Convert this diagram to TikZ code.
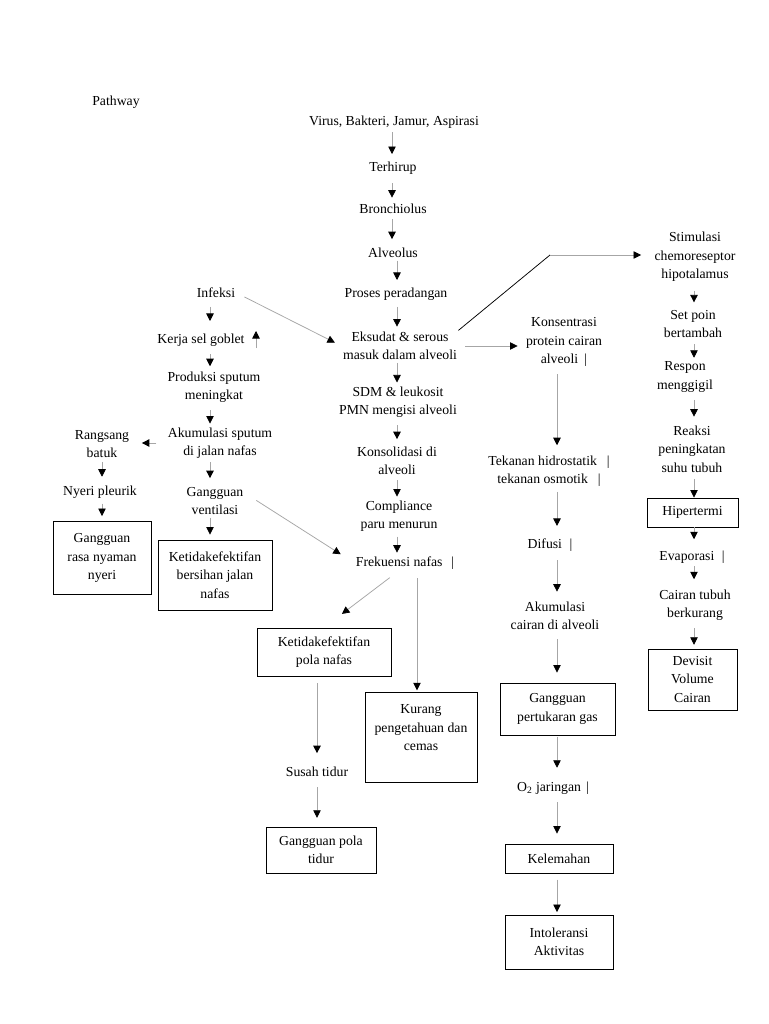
\documentclass[tikz,border=0pt]{standalone}
\usepackage{fontspec}
\setmainfont{Liberation Serif}
\usetikzlibrary{arrows.meta}
\begin{document}
\begin{tikzpicture}[x=0.8pt,y=-0.8pt,
  every node/.style={font=\fontsize{11}{14.8}\selectfont},
  txt/.style={align=center, inner sep=1pt},
  box/.style={draw=black, line width=0.75pt, align=center, inner sep=0pt},
  arr/.style={draw=black!35, line width=0.6pt, shorten <=3pt, shorten >=3pt,
    -{Triangle[length=6pt,width=6pt,color=black,fill=black]}},
  blk/.style={draw=black, line width=0.6pt},
]
\fill[white] (0,0) rectangle (768,1024);
\useasboundingbox (0,0) rectangle (768,1024);

% column guides
\coordinate (cc) at (392,0);
\coordinate (cc2) at (397,0);
\coordinate (lc) at (210,0);
\coordinate (lc2) at (102,0);
\coordinate (mc) at (557,0);
\coordinate (rc) at (694,0);

% centre column
\node[txt] (pathway) at (116,102) {Pathway};
\node[txt] (virus) at (394,122) {Virus, Bakteri, Jamur, Aspirasi};
\node[txt] (terhirup) at (393,168) {Terhirup};
\node[txt] (bronch) at (393,209) {Bronchiolus};
\node[txt] (alveolus) at (393,253) {Alveolus};
\node[txt] (proses) at (396,294) {Proses peradangan};
\node[txt] (eksudat) at (400,346) {Eksudat \& serous\\masuk dalam alveoli};
\node[txt] (sdm) at (398,402) {SDM \& leukosit\\PMN mengisi alveoli};
\node[txt] (konsol) at (397,461) {Konsolidasi di\\alveoli};
\node[txt] (compl) at (399,516) {Compliance\\paru menurun};
\node[txt] (frek) at (405,563) {Frekuensi nafas\hspace{7pt}|};

% left column
\node[txt] (infeksi) at (216,293) {Infeksi};
\node[txt] (kerja) at (201,340) {Kerja sel goblet};
\node[txt] (produksi) at (214,387) {Produksi sputum\\meningkat};
\node[txt] (akum) at (220,443) {Akumulasi sputum\\di jalan nafas};
\node[txt] (rangsang) at (102,444) {Rangsang\\batuk};
\node[txt] (nyeri) at (100,492) {Nyeri pleurik};
\node[txt] (gangv) at (215,501) {Gangguan\\ventilasi};
\node[box, minimum width=78.4pt, minimum height=58.4pt] (nyaman) at (102,558) {Gangguan\\rasa nyaman\\nyeri};
\node[box, minimum width=91.2pt, minimum height=56pt] (bersihan) at (215,575) {Ketidakefektifan\\bersihan jalan\\nafas};

% lower centre
\node[box, minimum width=107.2pt, minimum height=38.4pt] (ketpola) at (324,652) {Ketidakefektifan\\pola nafas};
\node[txt] (susah) at (317,772) {Susah tidur};
\node[box, minimum width=88pt, minimum height=36.8pt] (tidur) at (321,850) {Gangguan pola\\tidur};
\node[box, minimum width=89.6pt, minimum height=72pt] (kurang) at (421,737) {Kurang\\pengetahuan dan\\cemas\\\mbox{}};

% middle column
\node[txt] (konsen) at (564,342) {Konsentrasi\\protein cairan\\alveoli\hspace{5pt}|};
\node[txt] (tekanan) at (549,471) {Tekanan hidrostatik\hspace{8pt}|\\tekanan osmotik\hspace{8pt}|};
\node[txt] (difusi) at (550,545) {Difusi\hspace{6pt}|};
\node[txt] (akumc) at (555,616) {Akumulasi\\cairan di alveoli};
\node[box, minimum width=92pt, minimum height=41.6pt] (tukar) at (557.5,709) {Gangguan\\pertukaran gas};
\node[txt] (oksigen) at (553,788) {O\textsubscript{2} jaringan\hspace{4pt}|};
\node[box, minimum width=86.4pt, minimum height=23.2pt] (lemah) at (559,858.5) {Kelemahan};
\node[box, minimum width=86.4pt, minimum height=43.2pt] (intol) at (559,942) {Intoleransi\\Aktivitas};

% right column
\node[txt] (stim) at (695,257) {Stimulasi\\chemoreseptor\\hipotalamus};
\node[txt] (setpoin) at (693,324) {Set poin\\bertambah};
\node[txt] (respon) at (685,377) {Respon\\menggigil};
\node[txt] (reaksi) at (692,449) {Reaksi\\peningkatan\\suhu tubuh};
\node[box, minimum width=72.8pt, minimum height=23.2pt] (hiper) at (692.5,512.5) {Hipertermi};
\node[txt] (evap) at (692,557) {Evaporasi\hspace{6pt}|};
\node[txt] (cairan) at (695,605) {Cairan tubuh\\berkurang};
\node[box, minimum width=71.2pt, minimum height=48.8pt] (devisit) at (692.5,679.5) {Devisit\\Volume\\Cairan};

% centre arrows
\draw[arr, shorten <=2pt, shorten >=5pt] (cc |- virus.south) -- (cc |- terhirup.north);
\draw[arr, shorten <=6pt, shorten >=4pt] (cc |- terhirup.south) -- (cc |- bronch.north);
\draw[arr, shorten <=3pt, shorten >=6pt] (cc |- bronch.south) -- (cc |- alveolus.north);
\draw[arr, shorten <=1pt, shorten >=5pt] (cc2 |- alveolus.south) -- (cc2 |- proses.north);
\draw[arr, shorten <=4pt, shorten >=3pt] (cc2 |- proses.south) -- (cc2 |- eksudat.north);
\draw[arr, shorten <=1pt, shorten >=2pt] (cc2 |- eksudat.south) -- (cc2 |- sdm.north);
\draw[arr, shorten <=5pt, shorten >=5pt] (cc2 |- sdm.south) -- (cc2 |- konsol.north);
\draw[arr, shorten <=3pt, shorten >=2pt] (cc2 |- konsol.south) -- (cc2 |- compl.north);
\draw[arr, shorten <=3pt, shorten >=2pt] (cc2 |- compl.south) -- (cc2 |- frek.north);

% left arrows
\draw[arr, shorten <=6pt, shorten >=9pt] (lc |- infeksi.south) -- (lc |- kerja.north);
\draw[arr, shorten <=5pt, shorten >=3pt] (lc |- kerja.south) -- (lc |- produksi.north);
\draw[arr, shorten <=5pt, shorten >=2pt] (lc |- produksi.south) -- (lc |- akum.north);
\draw[arr, shorten <=2pt, shorten >=6pt] (lc |- akum.south) -- (lc |- gangv.north);
\draw[arr, shorten <=1pt, shorten >=4pt] (lc |- gangv.south) -- (lc |- bersihan.north);
\draw[arr, shorten <=8pt, shorten >=9pt] (akum.west) -- (akum.west -| rangsang.east);
\draw[arr, shorten <=2pt, shorten >=6pt] (lc2 |- rangsang.south) -- (lc2 |- nyeri.north);
\draw[arr, shorten <=3pt, shorten >=4pt] (lc2 |- nyeri.south) -- (lc2 |- nyaman.north);
\coordinate (upa) at (256,348);
\coordinate (upb) at (256,331);
\draw[arr, shorten <=0pt, shorten >=0pt] (upa) -- (upb);

% diagonals
\draw[arr, shorten <=7pt, shorten >=6pt] (infeksi.east) -- (eksudat.west);
\draw[arr, shorten <=11pt, shorten >=13pt] (gangv.15) -- (frek.west);
\draw[arr, shorten <=9pt, shorten >=18pt] ([xshift=-5pt]frek.south) -- (ketpola.north);
\coordinate (kin) at ([xshift=-3.2pt]kurang.north);
\draw[arr, shorten <=6pt, shorten >=1pt] (kin |- frek.south) -- (kin);
\draw[arr, shorten <=5.6pt, shorten >=10pt] (susah |- ketpola.south) -- (susah.north);
\draw[arr, shorten <=7pt, shorten >=7pt] (susah.south) -- (susah.south |- tidur.north);

% eksudat branches
\draw[arr, shorten <=5.6pt, shorten >=5.6pt] (eksudat.east) -- (eksudat.east -| konsen.west);
\coordinate (bend) at (550,255);
\draw[blk] (eksudat.north east) -- (bend);
\draw[arr, shorten <=0pt, shorten >=9.6pt] (bend) -- (bend -| stim.west);

% middle arrows
\draw[arr, shorten <=5pt, shorten >=7pt] (mc |- konsen.south) -- (mc |- tekanan.north);
\draw[arr, shorten <=3pt, shorten >=9pt] (mc |- tekanan.south) -- (mc |- difusi.north);
\draw[arr, shorten <=6pt, shorten >=7pt] (mc |- difusi.south) -- (mc |- akumc.north);
\draw[arr, shorten <=6pt, shorten >=8pt] (mc |- akumc.south) -- (mc |- tukar.north);
\draw[arr, shorten <=1pt, shorten >=10pt] (mc |- tukar.south) -- (mc |- oksigen.north);
\draw[arr, shorten <=5pt, shorten >=8pt] (mc |- oksigen.south) -- (mc |- lemah.north);
\draw[arr, shorten <=5pt, shorten >=2pt] (mc |- lemah.south) -- (mc |- intol.north);

% right arrows
\draw[arr, shorten <=6pt, shorten >=5pt] (rc |- stim.south) -- (rc |- setpoin.north);
\draw[arr, shorten <=4pt, shorten >=2pt] (rc |- setpoin.south) -- (rc |- respon.north);
\draw[arr, shorten <=5pt, shorten >=6pt] (rc |- respon.south) -- (rc |- reaksi.north);
\draw[arr, shorten <=4pt, shorten >=0pt] (rc |- reaksi.south) -- (rc |- hiper.north);
\draw[arr, shorten <=0pt, shorten >=8pt] (rc |- hiper.south) -- (rc |- evap.north);
\draw[arr, shorten <=1pt, shorten >=7pt] (rc |- evap.south) -- (rc |- cairan.north);
\draw[arr, shorten <=5pt, shorten >=3pt] (rc |- cairan.south) -- (rc |- devisit.north);
\end{tikzpicture}
\end{document}
